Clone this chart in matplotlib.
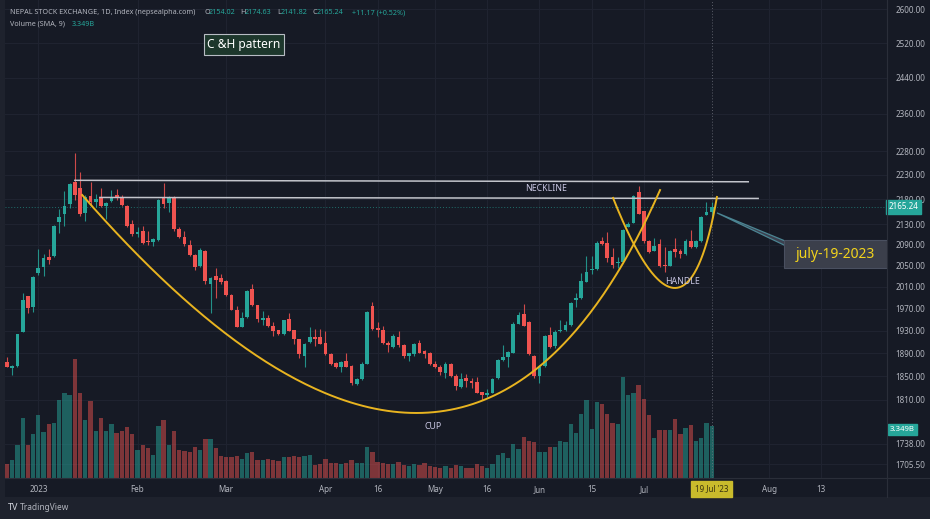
import matplotlib
matplotlib.use('Agg')
import matplotlib.pyplot as plt
import numpy as np
from matplotlib.patches import Rectangle, Polygon
from matplotlib.ticker import NullLocator, FixedLocator, FixedFormatter
from matplotlib.transforms import blended_transform_factory

plt.rcParams['font.family'] = ['Noto Sans', 'DejaVu Sans']

# ---------------- data (daily NEPSE candles, Dec 2022 - 19 Jul 2023) ----------------
opens = [1875, 1864, 1868, 1928, 1993, 1973, 2036, 2048, 2067, 2069,
         2135, 2150, 2171, 2215, 2203, 2153, 2186, 2175, 2185, 2166,
         2176, 2188, 2185, 2166, 2131, 2111, 2118, 2097, 2096, 2100,
         2183, 2172, 2183, 2122, 2106, 2089, 2070, 2050, 2078, 2016,
         2030, 2026, 2021, 1995, 1968, 1936, 1954, 2007, 1976, 1950,
         1953, 1938, 1931, 1924, 1952, 1931, 1915, 1886, 1910, 1918,
         1918, 1909, 1889, 1873, 1867, 1876, 1868, 1837, 1846, 1872,
         1974, 1935, 1932, 1908, 1902, 1918, 1904, 1886, 1888, 1908,
         1894, 1891, 1872, 1867, 1856, 1871, 1851, 1832, 1847, 1842,
         1841, 1823, 1818, 1822, 1847, 1878, 1884, 1891, 1943, 1960,
         1945, 1885, 1850, 1868, 1922, 1903, 1929, 1932, 1940, 1986,
         1989, 2020, 2041, 2043, 2097, 2094, 2067, 2056, 2058, 2124,
         2133, 2195, 2156, 2098, 2079, 2091, 2052, 2050, 2082, 2079,
         2072, 2097, 2086, 2098, 2149, 2154.02]
highs = [1883, 1869, 1925, 1999, 1994, 2031, 2083, 2073, 2082, 2128,
         2160, 2197, 2213, 2276, 2236, 2188, 2215, 2192, 2203, 2175,
         2200, 2202, 2189, 2169, 2138, 2124, 2127, 2118, 2104, 2181,
         2214, 2186, 2186, 2124, 2117, 2100, 2072, 2084, 2080, 2029,
         2045, 2034, 2023, 1997, 1975, 1964, 2004, 2016, 1977, 1965,
         1958, 1945, 1932, 1950, 1962, 1932, 1915, 1908, 1936, 1933,
         1933, 1929, 1890, 1874, 1876, 1890, 1869, 1847, 1874, 1965,
         1983, 1945, 1938, 1912, 1925, 1929, 1906, 1891, 1908, 1914,
         1896, 1892, 1876, 1869, 1874, 1873, 1854, 1856, 1854, 1847,
         1849, 1824, 1828, 1847, 1880, 1904, 1894, 1945, 1963, 1978,
         1947, 1887, 1869, 1922, 1937, 1931, 1950, 1947, 1982, 1999,
         2036, 2068, 2068, 2097, 2106, 2115, 2084, 2067, 2121, 2134,
         2189, 2207, 2157, 2100, 2103, 2101, 2085, 2080, 2103, 2082,
         2102, 2120, 2100, 2147, 2174, 2174.63]
lows = [1866, 1852, 1866, 1927, 1962, 1964, 2032, 2030, 2053, 2067,
        2114, 2127, 2162, 2179, 2146, 2137, 2169, 2165, 2165, 2141,
        2175, 2179, 2167, 2125, 2108, 2106, 2092, 2089, 2088, 2098,
        2162, 2154, 2117, 2104, 2088, 2068, 2042, 2048, 2015, 1962,
        1990, 2015, 1993, 1967, 1936, 1936, 1953, 1975, 1945, 1940,
        1937, 1920, 1922, 1922, 1929, 1907, 1882, 1867, 1909, 1903,
        1906, 1887, 1869, 1864, 1858, 1866, 1835, 1835, 1844, 1871,
        1931, 1918, 1907, 1893, 1900, 1902, 1881, 1876, 1886, 1890,
        1881, 1869, 1864, 1853, 1847, 1849, 1827, 1831, 1832, 1830,
        1822, 1810, 1815, 1822, 1846, 1876, 1866, 1890, 1942, 1939,
        1887, 1847, 1838, 1866, 1899, 1900, 1927, 1929, 1939, 1973,
        1988, 2019, 2035, 2042, 2089, 2058, 2045, 2045, 2058, 2124,
        2132, 2150, 2094, 2074, 2078, 2048, 2038, 2050, 2067, 2064,
        2070, 2084, 2084, 2096, 2148, 2141.82]
closes = [1867, 1868, 1924, 1985, 1971, 2029, 2046, 2064, 2060, 2126,
          2145, 2166, 2212, 2190, 2150, 2184, 2174, 2180, 2166, 2173,
          2184, 2183, 2169, 2127, 2112, 2116, 2093, 2095, 2101, 2178,
          2171, 2184, 2121, 2106, 2091, 2070, 2048, 2080, 2022, 2027,
          2023, 2019, 1995, 1968, 1937, 1953, 2002, 1976, 1951, 1953,
          1938, 1930, 1924, 1949, 1930, 1915, 1889, 1906, 1918, 1916,
          1906, 1889, 1871, 1867, 1875, 1867, 1838, 1845, 1872, 1964,
          1934, 1931, 1908, 1904, 1920, 1904, 1885, 1890, 1906, 1891,
          1889, 1871, 1867, 1858, 1871, 1851, 1834, 1845, 1842, 1838,
          1822, 1818, 1822, 1846, 1878, 1884, 1892, 1943, 1959, 1939,
          1889, 1851, 1867, 1920, 1901, 1928, 1932, 1940, 1981, 1989,
          2021, 2038, 2043, 2094, 2091, 2065, 2052, 2058, 2119, 2130,
          2186, 2151, 2097, 2076, 2088, 2050, 2050, 2078, 2077, 2072,
          2098, 2085, 2098, 2144, 2154, 2165.24]
volumes_b = [0.94, 1.21, 2.26, 4.14, 2.29, 3.04, 4.32, 3.16, 3.68, 3.75,
             5.37, 5.83, 5.67, 8.14, 5.83, 4.00, 5.28, 3.25, 4.12, 3.22,
             3.73, 3.06, 3.22, 3.52, 3.02, 1.92, 2.26, 2.06, 1.60, 3.59,
             3.96, 2.24, 3.25, 1.94, 1.87, 1.81, 2.10, 1.94, 2.70, 2.70,
             2.06, 1.51, 1.42, 1.42, 1.51, 1.30, 1.69, 1.81, 1.26, 1.23,
             1.33, 1.26, 1.17, 1.42, 1.44, 1.53, 1.42, 1.51, 1.58, 0.91,
             0.98, 1.30, 1.03, 1.03, 0.94, 1.03, 1.26, 1.05, 1.05, 2.13,
             1.76, 1.07, 1.03, 0.94, 0.96, 1.07, 0.91, 0.82, 0.98, 0.91,
             1.05, 0.82, 0.75, 0.69, 0.82, 0.71, 0.91, 0.85, 0.66, 0.66,
             0.96, 0.82, 0.71, 0.94, 1.60, 1.71, 1.37, 2.36, 2.01, 2.81,
             2.52, 2.47, 1.76, 1.78, 2.10, 2.13, 2.52, 2.47, 3.68, 3.09,
             4.41, 5.33, 3.38, 5.21, 5.08, 4.37, 3.75, 3.68, 6.93, 5.67,
             5.85, 6.38, 5.44, 4.32, 2.77, 3.32, 3.32, 3.27, 4.05, 3.04,
             3.43, 3.61, 2.56, 2.77, 3.80, 3.59]

x_tick_pos = [6, 25, 42, 61, 71, 82, 92, 102, 112, 122, 146, 156]
x_tick_labels = ['2023', 'Feb', 'Mar', 'Apr', '16', 'May', '16', 'Jun', '15', 'Jul', 'Aug', '13']
last_bar_label = "19 Jul '23"
price_ticks = [2600, 2520, 2440, 2360, 2280, 2230, 2180, 2130, 2090, 2050,
               2010, 1970, 1930, 1890, 1850, 1810, 1738, 1705.5]
last_price = 2165.24
vol_sma = 3.349

# drawing anchors (bar index, price)
neck_upper = ([13.0, 142.0], [2219, 2216])
neck_lower = ([17.8, 143.9], [2184, 2182])
cup_ctrl = [(14.4, 2189), (87.7, 1457.6), (125.1, 2199)]
handle_ctrl = [(116.1, 2183), (129.9, 1846.4), (136.0, 2185)]

# ---------------- style ----------------
BG = '#161a25'
PAGE = '#1e222d'
GRID = '#1f2330'
UP = '#26a69a'
DN = '#ef5350'
TXT = '#b2b5be'
YEL = '#e8b420'

W, H = 930, 519
fig = plt.figure(figsize=(W / 100, H / 100), dpi=100, facecolor=PAGE)

def px_rect(x0, y0, x1, y1):
    return [x0 / W, 1 - y1 / H, (x1 - x0) / W, (y1 - y0) / H]

bg = fig.add_axes(px_rect(5, 0, 930, 497))
bg.set_facecolor(BG)
bg.set_xticks([]); bg.set_yticks([])
for s in bg.spines.values():
    s.set_visible(False)

rect = px_rect(5, 0, 887, 478)
n = len(opens)
idx = np.arange(n)
XL = (-0.383, 168.58)
YL = (1683.6, 2623.0)

ax_g = fig.add_axes(rect)
ax_g.set_facecolor(BG)
ax_g.set_yscale('log')
ax_g.set_xlim(*XL); ax_g.set_ylim(*YL)
for p in price_ticks:
    ax_g.axhline(p, color=GRID, lw=0.8)
for xp in x_tick_pos:
    ax_g.axvline(xp, color=GRID, lw=0.8)
ax_g.set_xticks([]); ax_g.set_yticks([])
ax_g.yaxis.set_minor_locator(NullLocator())
for s in ax_g.spines.values():
    s.set_visible(False)

# volume overlay
ax_v = fig.add_axes(rect, sharex=ax_g)
ax_v.patch.set_visible(False)
ax_v.set_ylim(0, 32.8)
vcol = [(0.149, 0.651, 0.604, 0.5) if c >= o else (0.937, 0.325, 0.314, 0.48)
        for o, c in zip(opens, closes)]
ax_v.bar(idx, volumes_b, width=0.82, color=vcol, linewidth=0)
ax_v.set_xticks([]); ax_v.set_yticks([])
for s in ax_v.spines.values():
    s.set_visible(False)
ax_v.text(1.0035, vol_sma, f'{vol_sma:.3f}B', transform=blended_transform_factory(ax_v.transAxes, ax_v.transData),
          ha='left', va='center', fontsize=5.6, color='white', clip_on=False, zorder=10,
          bbox=dict(boxstyle='square,pad=0.25', fc=UP, ec=UP))

# price axis
ax = fig.add_axes(rect)
ax.patch.set_visible(False)
ax.set_yscale('log')
ax.set_xlim(*XL); ax.set_ylim(*YL)
for s in ax.spines.values():
    s.set_visible(False)

cols = [UP if c >= o else DN for o, c in zip(opens, closes)]
ax.vlines(idx, lows, highs, colors=cols, lw=0.8, alpha=0.85, zorder=3)
bottoms = [min(o, c) for o, c in zip(opens, closes)]
heights = [max(abs(c - o), 1.6) for o, c in zip(opens, closes)]
ax.bar(idx, heights, bottom=bottoms, width=0.72, color=cols, linewidth=0, zorder=4)

ax.yaxis.tick_right()
ax.yaxis.set_major_locator(FixedLocator(price_ticks))
ax.yaxis.set_major_formatter(FixedFormatter([f'{p:.2f}' for p in price_ticks]))
ax.yaxis.set_minor_locator(NullLocator())
ax.tick_params(axis='y', length=0, pad=6, labelsize=5.8, labelcolor=TXT)
ax.set_xticks(x_tick_pos)
ax.set_xticklabels(x_tick_labels)
ax.tick_params(axis='x', length=0, pad=5, labelsize=5.8, labelcolor=TXT)

# last price line and tag
ax.axhline(last_price, color=UP, lw=0.7, ls=(0, (1, 2)), alpha=0.6, zorder=2)
ax.text(1.0015, last_price, f'{last_price:.2f}', transform=blended_transform_factory(ax.transAxes, ax.transData),
        ha='left', va='center', fontsize=5.8, color='white', clip_on=False, zorder=10,
        bbox=dict(boxstyle='square,pad=0.3', fc=UP, ec=UP))

# crosshair at last bar
ax.axvline(idx[-1], color='#787b86', lw=0.7, ls=(0, (1, 2)), alpha=0.7, zorder=2)
ax.text(idx[-1], -0.023, last_bar_label, transform=blended_transform_factory(ax.transData, ax.transAxes),
        ha='center', va='center', fontsize=5.8, color='#3a3410', clip_on=False, zorder=10,
        bbox=dict(boxstyle='square,pad=0.45', fc='#c9bb2c', ec='#c9bb2c'))

# neckline
ax.plot(*neck_upper, color='#c3c5cc', lw=1.1, zorder=5)
ax.plot(*neck_lower, color='#c3c5cc', lw=1.1, zorder=5)

def qbez(ctrl, m=200):
    t = np.linspace(0, 1, m)
    xs = np.array([c[0] for c in ctrl]); ls = np.log([c[1] for c in ctrl])
    bx = (1 - t) ** 2 * xs[0] + 2 * t * (1 - t) * xs[1] + t ** 2 * xs[2]
    by = (1 - t) ** 2 * ls[0] + 2 * t * (1 - t) * ls[1] + t ** 2 * ls[2]
    return bx, np.exp(by)

ax.plot(*qbez(cup_ctrl), color=YEL, lw=1.4, zorder=6)
ax.plot(*qbez(handle_ctrl), color=YEL, lw=1.4, zorder=6)

lab = dict(color='#c8c6e2', fontsize=6.3, fontweight='bold', ha='center', va='center', zorder=7)
ax.text(103.3, 2203, 'NECKLINE', **lab)
ax.text(81.6, 1766, 'CUP', **lab)
ax.text(129.5, 2021, 'HANDLE', **lab)

# callout
tip = (136.0, 2153)
ax.add_patch(Polygon([tip, (149.2, 2097), (149.2, 2088)], closed=True, fc='#3b4150', ec='#4b8593',
                     lw=0.9, zorder=8))
ax.add_patch(Rectangle((148.85, 2045.8), 25, 2099.6 - 2045.8, fc='#3b3f4b', ec='#4a5060',
                       lw=0.8, zorder=9))
ax.text(158.6, 2072, 'july-19-2023', color='#f3d41c', fontsize=10, fontweight='bold',
        ha='center', va='center', zorder=10)

# separators
fig.add_artist(plt.Line2D([887 / W, 887 / W], [1 - 497 / H, 1], color='#2a2e39', lw=0.8))
fig.add_artist(plt.Line2D([5 / W, 1], [1 - 478 / H, 1 - 478 / H], color='#2a2e39', lw=0.8))

# header
def ftxt(x, y, s, **kw):
    fig.text(x / W, 1 - y / H, s, va='center', ha='left', **kw)

HF = 5.2
ftxt(10, 13, 'NEPAL STOCK EXCHANGE, 1D, Index (nepsealpha.com)', fontsize=HF, color=TXT)
for xx, lt, val in [(204, 'O', '2154.02'), (240, 'H', '2174.63'), (277, 'L', '2141.82'), (312, 'C', '2165.24')]:
    ftxt(xx, 13, lt, fontsize=HF, color=TXT)
    ftxt(xx + (3.6 if lt == 'L' else 4.8), 13, val, fontsize=HF, color=UP)
ftxt(352, 13, '+11.17 (+0.52%)', fontsize=HF, color=UP)
ftxt(10, 24, 'Volume (SMA, 9)', fontsize=HF, color=TXT)
ftxt(72, 24, '3.349B', fontsize=HF, color=UP)

fig.text(244 / W, 1 - 44.5 / H, 'C &H pattern', ha='center', va='center', fontsize=8.6,
         fontweight='bold', color='white',
         bbox=dict(boxstyle='square,pad=0.3', fc='#1d372c', ec='#b8bcc4', lw=0.8))

# footer
ftxt(8, 508, 'TV', fontsize=6.5, fontweight='bold', color='#d1d4dc')
ftxt(20, 508, 'TradingView', fontsize=6, color='#b2b5be')

fig.savefig('out.png', dpi=100, facecolor=PAGE)
